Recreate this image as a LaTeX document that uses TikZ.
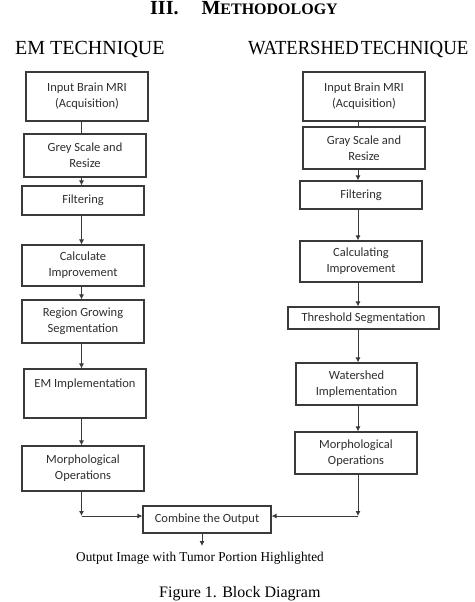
\documentclass[tikz,border=0pt]{standalone}
\usepackage{fontspec}
\usepackage{graphicx}
\setmainfont{Liberation Serif}
\newfontfamily\boxfont{Carlito}
\usetikzlibrary{arrows.meta}
\definecolor{boxgray}{HTML}{3A3A3A}
\definecolor{txtgray}{HTML}{2E2E2E}
\begin{document}
\begin{tikzpicture}[x=1pt,y=-1pt,
  blk/.style={draw=boxgray,line width=1.1pt,rectangle,inner sep=0pt,align=center,
    text=txtgray,font=\boxfont\fontsize{12.5}{16}\selectfont},
  conn/.style={draw=boxgray,line width=0.9pt},
  arr/.style={conn,-{Latex[length=5pt,width=5pt]}},
  plain/.style={inner sep=0pt,text=black}]
\useasboundingbox (0,0) rectangle (474,602);
\clip (0,0) rectangle (474,602);

% title
\node[plain,anchor=base west,font=\bfseries\fontsize{20}{24}\selectfont] (ttl) at (150,15)
  {III.\hspace{23pt}M{\fontsize{16}{20}\selectfont ETHODOLOGY}};

% headings
\node[plain,anchor=base west,font=\fontsize{20}{24}\selectfont] (hL) at (15,55) {EM TECHNIQUE};
\node[plain,anchor=base west,font=\fontsize{20}{24}\selectfont] (hR) at (248,55)
  {\scalebox{0.93}[1]{WATERSHED}\hspace{2pt}\scalebox{0.94}[1]{TECHNIQUE}};

% axes for connectors
\coordinate (lx) at (81.5,0);
\coordinate (rx) at (358,0);

% left column
\node[blk,minimum width=122pt,minimum height=49pt] (L1) at (87,96.5) {Input Brain MRI\\(Acquisition)};
\node[blk,minimum width=122pt,minimum height=43pt] (L2) at (85,155.5) {Grey Scale and\\Resize};
\node[blk,minimum width=122pt,minimum height=29pt] (L3) at (83,200.5) {Filtering};
\node[blk,minimum width=122pt,minimum height=41pt] (L4) at (83,265.5) {Calculate\\Improvement};
\node[blk,minimum width=122pt,minimum height=43pt] (L5) at (83,321.5) {Region Growing\\Segmentation};
\node[blk,minimum width=122pt,minimum height=49pt] (L6) at (85,393.5) {EM Implementation\\[4pt]\mbox{}};
\node[blk,minimum width=122pt,minimum height=45pt] (L7) at (83,468.5) {Morphological\\Operations};

% right column
\node[blk,minimum width=122pt,minimum height=49pt] (R1) at (364,96.5) {Input Brain MRI\\(Acquisition)};
\node[blk,minimum width=122pt,minimum height=42pt] (R2) at (364,148) {Gray Scale and\\Resize};
\node[blk,minimum width=122pt,minimum height=28pt] (R3) at (361,195) {Filtering};
\node[blk,minimum width=122pt,minimum height=41pt] (R4) at (361,261.5) {Calculating\\Improvement};
\node[blk,minimum width=151pt,minimum height=22pt] (R5) at (363.5,318) {Threshold Segmentation};
\node[blk,minimum width=121pt,minimum height=42pt] (R6) at (356.5,384) {Watershed\\Implementation};
\node[blk,minimum width=122pt,minimum height=42pt] (R7) at (356,453) {Morphological\\Operations};

% combine and output
\node[blk,minimum width=128pt,minimum height=27pt] (CO) at (207,519.5) {Combine the Output};
\coordinate (ox) at (202,0);
\node[plain,anchor=base west,font=\fontsize{13.5}{16}\selectfont] (OUT) at (76,561)
  {\scalebox{0.98}[1]{Output Image with Tumor Portion Highlighted}};
\node[plain,anchor=base west,font=\fontsize{16}{19}\selectfont] (CAP) at (159,597) {Figure 1. Block Diagram};

% left connectors
\draw[conn] (L1.south -| lx) -- (L2.north -| lx);
\draw[arr] (L2.south -| lx) -- (L3.north -| lx);
\draw[arr] (L3.south -| lx) -- (L4.north -| lx);
\draw[arr] (L4.south -| lx) -- (L5.north -| lx);
\draw[arr] (L5.south -| lx) -- (L6.north -| lx);
\draw[arr] (L6.south -| lx) -- (L7.north -| lx);
\coordinate (cl) at (81.5,516);
\draw[arr] (L7.south -| lx) -- (cl);
\draw[arr] (cl) -- (cl -| CO.west);

% right connectors
\draw[conn] (R1.south -| rx) -- (R2.north -| rx);
\draw[arr] (R2.south -| rx) -- (R3.north -| rx);
\draw[arr] (R3.south -| rx) -- (R4.north -| rx);
\draw[arr] (R4.south -| rx) -- (R5.north -| rx);
\draw[arr] (R5.south -| rx) -- (R6.north -| rx);
\draw[arr] (R6.south -| rx) -- (R7.north -| rx);
\coordinate (cr) at (358,516);
\draw[arr] (R7.south -| rx) -- (cr);
\draw[arr] (cr) -- (cr -| CO.east);

% output arrow
\draw[arr] (CO.south -| ox) -- (ox |- 546,546);
\end{tikzpicture}
\end{document}
